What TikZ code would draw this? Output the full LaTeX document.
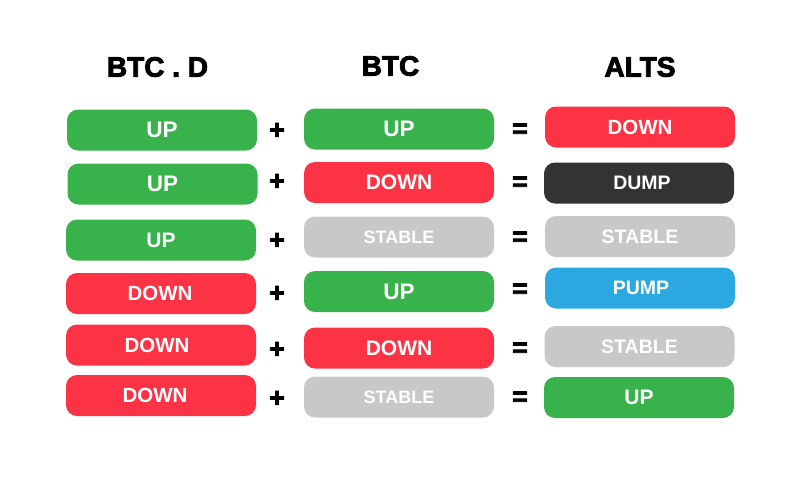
\documentclass[tikz,border=0pt]{standalone}
\usepackage{fontspec}
\setmainfont{Liberation Sans}
\newfontfamily\headfont[FakeBold=3]{Liberation Sans Bold}
\definecolor{upgreen}{HTML}{38B24B}
\definecolor{downred}{HTML}{FB3345}
\definecolor{stablegray}{HTML}{C8C8CA}
\definecolor{dumpblack}{HTML}{333333}
\definecolor{pumpblue}{HTML}{2CA8E0}

\begin{document}
\begin{tikzpicture}
        [
            x = 1pt, y = -1pt,
            cell/.style = {minimum width = 190pt, minimum height = 41pt, inner sep = 0pt, rounded corners = 11pt, text = white},
            cellfont/.style = {font = \fontsize{#1}{#1}\selectfont\bfseries},
            up/.style = {cell, fill = upgreen, cellfont = 22.5},
            down/.style = {cell, fill = downred, cellfont = 20.5},
            stable/.style = {cell, fill = stablegray, cellfont = 19.5},
            title/.style = {font = \fontsize{28}{28}\selectfont\headfont},
            sign/.style = {font = \fontsize{27}{27}\selectfont\headfont},
        ]

        \useasboundingbox (0,0) rectangle (800,480);

        \node[title] (btcd) at (157.5,67) {BTC . D};
        \node[title] (btc) at (390.5,66) {BTC};
        \node[title] (alts) at (640,67) {ALTS};

        \node[up] (a1) at (162,130) {UP};
        \node[up] (a2) at (162.5,184) {UP};
        \node[up, cellfont = 21] (a3) at (161,240) {UP};
        \node[down] (a4) at (161,293.5) {DOWN\kern2pt};
        \node[down] (a5) at (161,345) {\raisebox{-1pt}{DOWN}\kern8pt};
        \node[down] (a6) at (161,395.5) {DOWN\kern12pt};

        \node[up] (b1) at (399,129) {UP};
        \node[down, cellfont = 21] (b2) at (399,182.5) {DOWN};
        \node[stable, cellfont = 18] (b3) at (399,237) {STABLE};
        \node[up] (b4) at (399,291.5) {UP};
        \node[down, cellfont = 21] (b5) at (399,348) {DOWN};
        \node[stable, cellfont = 18] (b6) at (399,397) {STABLE};

        \node[down] (c1) at (640,127) {DOWN};
        \node[cell, fill = dumpblack, cellfont = 19.5] (c2) at (639,183) {\kern6pt DUMP};
        \node[stable] (c3) at (640,236.5) {STABLE};
        \node[cell, fill = pumpblue, cellfont = 19.5] (c4) at (640,288) {\kern2pt PUMP};
        \node[stable] (c5) at (639.5,346.5) {STABLE};
        \node[up, cellfont = 21] (c6) at (639,397.5) {UP};

        \node[sign] (p1) at (277,131) {+};
        \node[sign] (p2) at (277,182) {+};
        \node[sign] (p3) at (277,241) {+};
        \node[sign] (p4) at (277,294) {+};
        \node[sign] (p5) at (277,350) {+};
        \node[sign] (p6) at (277,399) {+};

        \node[sign] (e1) at (520,130.5) {=};
        \node[sign] (e2) at (520,183.5) {=};
        \node[sign] (e3) at (520,238.5) {=};
        \node[sign] (e4) at (520,290.5) {=};
        \node[sign] (e5) at (520,349.5) {=};
        \node[sign] (e6) at (520,398.5) {=};

    \end{tikzpicture}
\end{document}
